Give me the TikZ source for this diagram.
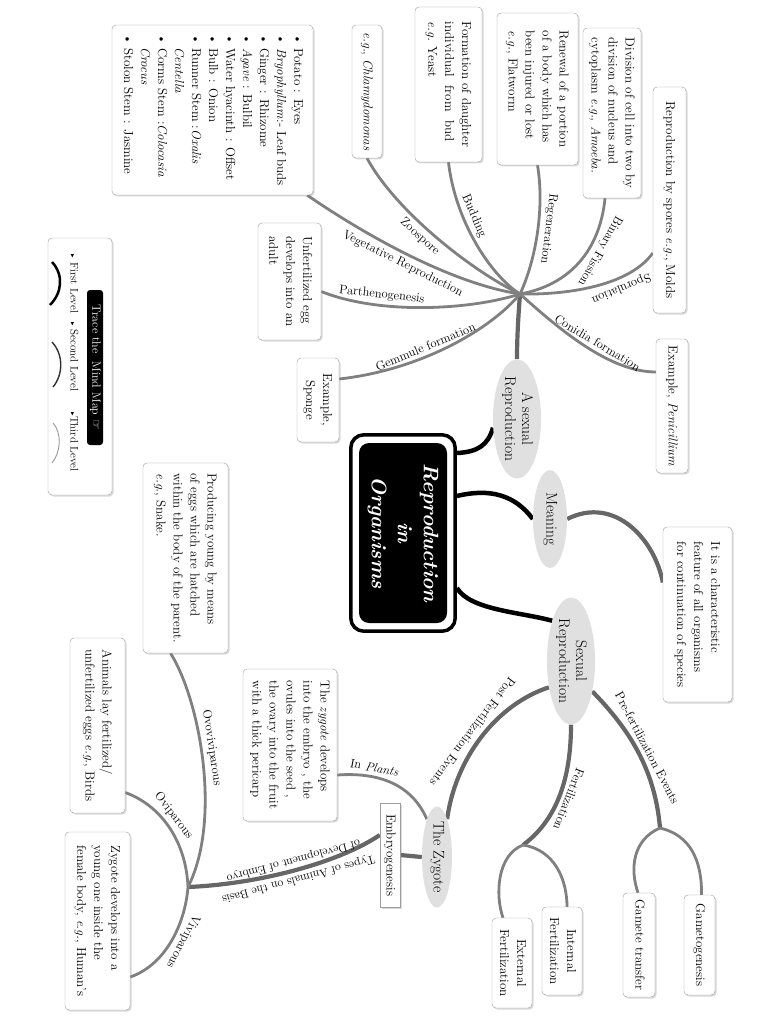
\documentclass[tikz,border=0pt]{standalone}
\usepackage{fontspec}
\usepackage{graphicx}
\usetikzlibrary{shapes.geometric,shadows,calc,fit,backgrounds}

\newfontfamily\symfont{DejaVu Sans}

\definecolor{boxline}{gray}{0.62}
\definecolor{bubblefill}{gray}{0.88}
\definecolor{lineB}{gray}{0.40}
\definecolor{lineC}{gray}{0.50}

% text turned a quarter clockwise, as in the whole map
\newcommand{\vtxt}[2][l]{\rotatebox{-90}{\begin{tabular}{@{}#1@{}}#2\end{tabular}}}
\newcommand{\lvlmark}{{\symfont\fontsize{7}{8}\selectfont ▸}}

\tikzset{
  leaf/.style={draw=boxline, fill=white, rounded corners=4pt, inner sep=0pt,
    font=\fontsize{13}{17}\selectfont,
    drop shadow={opacity=0.3, shadow xshift=1.5pt, shadow yshift=-1.5pt}},
  bubble/.style={ellipse, fill=bubblefill, inner sep=0pt, font=\fontsize{15.5}{17}\selectfont},
  mainbox/.style={fill=black, rounded corners=10pt, text=white, inner sep=0pt},
  stemA/.style={line width=4.5pt, black},
  stemB/.style={line width=4.2pt, lineB},
  stemC/.style={line width=2.8pt, lineC},
  lbl/.style={sloped, allow upside down, text=black, font=\fontsize{12.5}{14}\selectfont, inner sep=3.5pt},
}

\begin{document}
\begin{tikzpicture}[x=1pt, y=-1pt]
\path[use as bounding box] (0,0) rectangle (768,1024);

% centre of the map
\node[mainbox, minimum width=88pt, minimum height=180pt, font=\bfseries\itshape\fontsize{21}{26}\selectfont] (title) at (403,533)
  {\vtxt[c]{Reproduction\\in\\Organisms}};
\node[fit=(title), inner sep=8pt, draw, line width=3.5pt, rounded corners=13pt] (frame) {};

% first level
\node[bubble, minimum width=47pt, minimum height=112pt] (asex) at (517,419) {\vtxt[c]{A sexual\\Reproduction}};
\node[bubble, minimum width=34pt, minimum height=98pt] (meaning) at (550,519) {\vtxt{Meaning}};
\node[bubble, minimum width=45pt, minimum height=127pt] (sex) at (571,661) {\vtxt[c]{Sexual\\Reproduction}};
\node[bubble, minimum width=30pt, minimum height=99pt] (zygote) at (437,857) {\vtxt{The Zygote}};

\coordinate (ahub) at (520,294);
\coordinate (pfork) at (660,828);
\coordinate (ffork) at (523,845);
\coordinate (anhub) at (188,887);

% asexual leaves
\node[leaf, minimum width=201pt, minimum height=170pt] (veg) at (212.5,110) {\vtxt{%
  \textbullet\ Potato : Eyes\\
  \textbullet\ \textit{Bryophyllum}:- Leaf buds\\
  \textbullet\ Ginger : Rhizome\\
  \textbullet\ \textit{Agave} : Bulbil\\
  \textbullet\ Water hyacinth : Offset\\
  \textbullet\ Bulb : Onion\\
  \textbullet\ Runner Stem :\textit{Oxalis}\\
  \hspace{1em}\textit{Centella}\\
  \textbullet\ Corms Stem :\textit{Colocasia}\\
  \hspace{1em}\textit{Crocus}\\
  \textbullet\ Stolon Stem : Jasmine}};
\node[leaf, minimum width=30pt, minimum height=133pt] (chlamy) at (367,91.5) {\vtxt{\textit{e.g.}, \textit{Chlamydomonas}}};
\node[leaf, minimum width=67pt, minimum height=155pt] (bud) at (448.5,84.5) {\vtxt{Formation of daughter\\individual~~from~~bud\\\textit{e.g.} Yeast}};
\node[leaf, minimum width=81pt, minimum height=152pt] (regen) at (537.5,89) {\vtxt{Renewal of a portion\\of a body which has\\been injured or lost\\\textit{e.g.}, Flatworm}};
\node[leaf, minimum width=58pt, minimum height=170pt] (fission) at (612,113) {\vtxt{Division of cell into two by\\division of nucleus and\\cytoplasm \textit{e.g., Amoeba.}}};
\node[leaf, minimum width=33pt, minimum height=226pt] (spores) at (669.5,200) {\vtxt{Reproduction by spores \textit{e.g.}, Molds}};
\node[leaf, minimum width=32pt, minimum height=134pt] (penic) at (672,406) {\vtxt{Example, \textit{Penicillium}}};
\node[leaf, minimum width=63pt, minimum height=117pt] (partheno) at (289.5,281.5) {\vtxt{Unfertilized egg\\develops into an\\adult}};
\node[leaf, minimum width=42pt, minimum height=84pt] (sponge) at (318,400) {\vtxt[c]{Example,\\Sponge}};

% meaning
\node[leaf, minimum width=69pt, minimum height=175pt] (meanbox) at (697.5,614.5) {\vtxt{It is a characteristic\\feature of all organisms\\for continuation of species}};

% sexual leaves
\node[leaf, minimum width=31pt, minimum height=100pt] (gameto) at (699.5,945) {\vtxt{Gametogenesis}};
\node[leaf, minimum width=32pt, minimum height=104pt] (gtransfer) at (639,945) {\vtxt{Gamete transfer}};
\node[leaf, minimum width=40pt, minimum height=88pt] (internal) at (562,951) {\vtxt[c]{Internal\\Fertilization}};
\node[leaf, minimum width=40pt, minimum height=90pt] (external) at (512,963) {\vtxt[c]{External\\Fertilization}};
\node[leaf, rounded corners=0pt, minimum width=20pt, minimum height=104pt] (embryo) at (390,855) {\vtxt{Embryogenesis}};
\node[leaf, minimum width=94pt, minimum height=152pt] (plants) at (290,745) {\vtxt{The \textit{zygote} develops\\into the embryo , the\\ovules into the seed ,\\the ovary into the fruit\\with a thick pericarp}};
\node[leaf, minimum width=85pt, minimum height=190pt] (ovovivi) at (185.5,558) {\vtxt{Producing young by means\\of eggs which are hatched\\within the body of the parent.\\\textit{e.g.}, Snake.}};
\node[leaf, minimum width=55pt, minimum height=175pt] (ovi) at (97.5,725.5) {\vtxt{Animals lay fertilized/\\unfertilized eggs \textit{e.g.}, Birds}};
\node[leaf, minimum width=65pt, minimum height=178pt] (vivi) at (97.5,921) {\vtxt{Zygote develops into a\\young one inside the\\female body, \textit{e.g.}, Human's}};

% legend
\node[leaf, minimum width=64pt, minimum height=257pt] (legend) at (80,366.5) {};
\node[mainbox, rounded corners=3pt, minimum width=16pt, minimum height=155pt, font=\fontsize{12}{13}\selectfont] (legtitle) at (95,367.5) {\vtxt{Trace the~ Mind Map {\symfont ☞}}};
\node[font=\fontsize{11}{12}\selectfont] (lvlone) at (73,284) {\vtxt{\lvlmark\ First Level}};
\node[font=\fontsize{11}{12}\selectfont] (lvltwo) at (73,357) {\vtxt{\lvlmark\ Second Level}};
\node[font=\fontsize{11}{12}\selectfont] (lvlthree) at (73,442) {\vtxt{\lvlmark Third Level}};
\draw[line width=2.5pt, black] (52,262) .. controls (64,275) and (62,293) .. (50,305);
\draw[line width=1.4pt, gray!40!black] (52,342) .. controls (64,355) and (63,375) .. (53,387);
\draw[line width=0.9pt, gray!80] (53,423) .. controls (62,433) and (61,452) .. (52,463);

\begin{scope}[on background layer]
  % first level
  \draw[stemA] ([yshift=80pt]frame.east) .. controls (478,452) and (488,445) .. (asex.200);
  \draw[stemA] ([yshift=37pt]frame.east) .. controls (490,488) and (515,495) .. (meaning.west);
  \draw[stemA] ([yshift=-55pt]frame.east) .. controls (470,610) and (520,612) .. (sex.115);

  % asexual
  \draw[stemB] (asex.north) .. controls (517,340) and (518,320) .. (ahub);
  \draw[stemC] ([xshift=-6pt]veg.south east) .. controls (380,245) and (460,285) .. (ahub)
    node[lbl, below, pos=0.45] {Vegetative Reproduction};
  \draw[stemC] (chlamy.south) .. controls (395,210) and (470,270) .. (ahub)
    node[lbl, below, pos=0.45] {Zoospore};
  \draw[stemC] (bud.south) .. controls (455,220) and (490,275) .. (ahub)
    node[lbl, above, pos=0.35] {Budding};
  \draw[stemC] (regen.south) .. controls (545,210) and (535,262) .. (ahub)
    node[lbl, above, pos=0.45] {Regeneration};
  \draw[stemC] ([xshift=-7pt]fission.south) .. controls (600,250) and (570,285) .. (ahub)
    node[lbl, above, pos=0.35] {Binary Fission};
  \draw[stemC] ([yshift=-53pt]spores.west) .. controls (630,285) and (570,295) .. (ahub)
    node[lbl, above, pos=0.35] {Sporulation};
  \draw[stemC] (ahub) .. controls (560,330) and (610,372) .. ([yshift=34pt]penic.west)
    node[lbl, above, pos=0.55] {Conidia formation};
  \draw[stemC] ([yshift=-10pt]partheno.east) .. controls (380,315) and (470,310) .. (ahub)
    node[lbl, above, pos=0.3] {Parthenogenesis};
  \draw[stemC] ([yshift=21pt]sponge.east) .. controls (420,370) and (490,330) .. (ahub)
    node[lbl, above, pos=0.4] {Gemmule formation};

  % meaning
  \draw[stemB] (meaning.east) .. controls (615,495) and (655,540) .. ([yshift=32pt]meanbox.west);

  % sexual
  \draw[stemB] (sex.-55) .. controls (630,730) and (655,770) .. (pfork)
    node[lbl, above, pos=0.5] {Pre-fertilization Events};
  \draw[stemC] (pfork) .. controls (632,840) and (630,870) .. ([xshift=-1pt]gtransfer.north);
  \draw[stemC] (pfork) .. controls (690,835) and (702,860) .. ([xshift=2pt]gameto.north);
  \draw[stemB] (sex.south) .. controls (571,790) and (550,825) .. (ffork)
    node[lbl, above, pos=0.45] {Fertilization};
  \draw[stemC] (ffork) .. controls (497,855) and (495,895) .. ([xshift=-9pt]external.north);
  \draw[stemC] (ffork) .. controls (555,850) and (567,880) .. ([xshift=5pt]internal.north);
  \draw[stemB] (sex.230) .. controls (495,705) and (455,760) .. (zygote.75)
    node[lbl, below, pos=0.5] {Post Fertilization Events};

  % the zygote
  \draw[stemC] ([yshift=-30pt]plants.east) .. controls (380,772) and (412,785) .. (zygote.105)
    node[lbl, above, pos=0.3] {In \textit{Plants}};
  \draw[stemB] (zygote.west) -- (embryo.east);
  \draw[stemB] ([yshift=20pt]embryo.west) .. controls (340,862) and (260,884) .. (anhub)
    node[lbl, pos=0.5, align=center, font=\fontsize{12}{19}\selectfont] {Types of Animals on the Basis\\of Development of Embryo};
  \draw[stemC] ([yshift=-67pt]ovi.east) .. controls (160,805) and (186,840) .. (anhub)
    node[lbl, above, pos=0.45] {Oviparous};
  \draw[stemC] ([xshift=-15pt]ovovivi.south) .. controls (200,700) and (222,820) .. (anhub)
    node[lbl, above, pos=0.45] {Ovoviviparous};
  \draw[stemC] (anhub) .. controls (185,925) and (165,965) .. ([yshift=-56pt]vivi.east)
    node[lbl, above, pos=0.45] {Viviparous};
\end{scope}
\end{tikzpicture}
\end{document}
